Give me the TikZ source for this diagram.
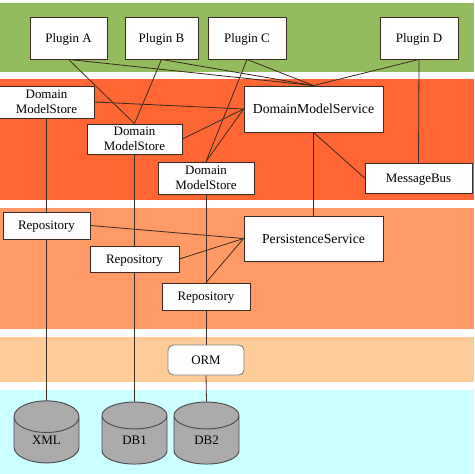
\documentclass[tikz,border=0pt]{standalone}
\usepackage{fontspec}
\setmainfont{Liberation Serif}
\usetikzlibrary{shapes.geometric}
\definecolor{bandgreen}{HTML}{92BC5E}
\definecolor{bandred}{HTML}{FF6633}
\definecolor{bandorange}{HTML}{FF9966}
\definecolor{bandpeach}{HTML}{FFCC99}
\definecolor{bandcyan}{HTML}{CCFFFF}
\definecolor{dbgrey}{HTML}{ABABAB}
\definecolor{edge}{HTML}{3A2A20}
\tikzset{
  x=0.75pt,y=-0.75pt,
  boxn/.style={draw=edge,line width=0.65pt,fill=white,align=center,inner sep=0pt,text depth=0pt,font=\fontsize{9.7pt}{11pt}\selectfont},
  svcbox/.style={boxn,font=\fontsize{10.3pt}{11pt}\selectfont},
  ormbox/.style={boxn,rounded corners=4pt,draw=black!50},
  link/.style={draw=edge,line width=0.6pt},
  db/.style={draw=black!70,line width=0.7pt,fill=dbgrey,cylinder,shape border rotate=90,aspect=1.1,
    minimum width=48.75pt,minimum height=46.5pt,inner sep=0pt,font=\fontsize{9.7pt}{10pt}\selectfont}
}
\newcommand{\boxat}[6]{\node[#1,minimum width=#4*0.75pt,minimum height=#5*0.75pt] (#2) at (#3) {#6};}
\begin{document}
\begin{tikzpicture}
\useasboundingbox (0,0) rectangle (474,474);
\fill[white] (0,0) rectangle (474,474);
\fill[bandgreen] (0,3) rectangle (474,72);
\fill[bandred] (0,79) rectangle (474,200);
\fill[bandorange] (0,208) rectangle (474,329);
\fill[bandpeach] (0,337) rectangle (474,382);
\fill[bandcyan] (0,390) rectangle (474,474);

\boxat{boxn}{pa}{68.5,38}{77}{42}{Plugin A}
\boxat{boxn}{pb}{161.5,38}{73}{42}{Plugin B}
\boxat{boxn}{pc}{247,38}{78}{42}{Plugin C}
\boxat{boxn}{pd}{419,38}{78}{42}{Plugin D}
\boxat{boxn}{sa}{46.5,102}{95}{32}{Domain\\ModelStore}
\boxat{boxn}{sb}{134.5,139}{95}{30}{Domain\\ModelStore}
\boxat{boxn}{sc}{206,178}{96}{32}{Domain\\ModelStore}
\boxat{svcbox}{dms}{313.5,109}{139}{46}{DomainModelService}
\boxat{boxn}{bus}{418.5,178}{107}{30}{MessageBus}
\boxat{svcbox}{ps}{313.5,238.5}{139}{45}{PersistenceService}
\boxat{boxn}{ra}{46.5,225.5}{87}{27}{Repository}
\boxat{boxn}{rb}{134.5,259}{89}{26}{Repository}
\boxat{boxn}{rc}{206,296.5}{88}{27}{Repository}
\boxat{ormbox}{orm}{206,360}{76}{30}{ORM}
\node[db] (xml) at (46.5,440) {XML};
\node[db] (dba) at (134.5,440) {DB1};
\node[db] (dbb) at (206.5,440) {DB2};

\draw[link] (pa.south) -- (sb.north);
\draw[link] (pa.south) -- (dms.north);
\draw[link] (pb.south) -- (sb.north);
\draw[link] (pb.south) -- (dms.north);
\draw[link] (pc.south) -- (sc.north);
\draw[link] (pc.south) -- (dms.north);
\draw[link] (pd.south) -- (dms.north);
\draw[link] (pd.south) -- (bus.north);
\draw[link] (sa.east) -- (dms.west);
\draw[link] (sb.east) -- (dms.west);
\draw[link] (sc.north) -- (dms.west);
\draw[link] (dms.south) -- (bus.west);
\draw[link] (dms.south) -- (ps.north);
\draw[link] (sa.south) -- (ra.north);
\draw[link] (sb.south) -- (rb.north);
\draw[link] (sc.south) -- (rc.north);
\draw[link] (ra.east) -- (ps.west);
\draw[link] (rb.east) -- (ps.west);
\draw[link] (rc.north) -- (ps.west);
\draw[link] (ra.south) -- (xml.north);
\draw[link] (rb.south) -- (dba.north);
\draw[link] (rc.south) -- (orm.north);
\draw[link] (orm.south) -- (dbb.north);
\end{tikzpicture}
\end{document}
